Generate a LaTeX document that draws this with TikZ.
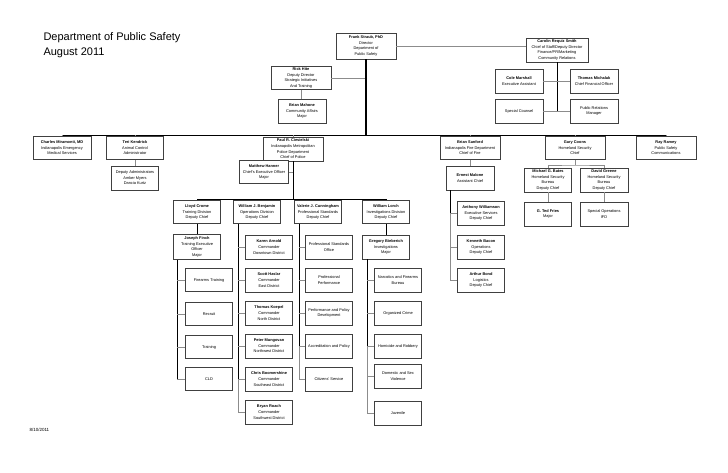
\documentclass[tikz,border=0pt]{standalone}
\usepackage{fontspec}
\setmainfont{Liberation Sans}
\begin{document}
\begin{tikzpicture}[x=1pt,y=-1pt,
 bx/.style={draw=black!75,line width=0.6pt,fill=white,align=center,inner sep=0pt,font=\fontsize{3.9}{5.6}\selectfont},
 ln/.style={draw=black!45,line width=0.6pt},
 tk/.style={draw=black,line width=1.6pt},
 tm/.style={draw=black,line width=0.8pt}]
\useasboundingbox (0,0) rectangle (728,472);
\newcommand\bx[6]{\node[bx,minimum width=#4pt,minimum height=#5pt] (#1) at (#2,#3) {#6};}
\node[anchor=west,font=\fontsize{11}{13}\selectfont] (t1) at (40,38) {Department of Public Safety};
\node[anchor=west,font=\fontsize{11}{13}\selectfont] (t2) at (40,53) {August 2011};
\node[anchor=west,font=\fontsize{4.5}{5}\selectfont] (dt) at (26,430) {8/10/2011};
% top
\bx{frank}{366}{46}{60}{26}{\textbf{Frank Straub, PhD}\\Director\\Department of\\Public Safety}
\bx{carolin}{557}{50}{62}{24}{\textbf{Carolin Requiz Smith}\\Chief of Staff/Deputy Director\\Finance/PR/Marketing\\Community Relations}
\bx{rick}{301}{78}{60}{23}{\textbf{Rick Hite}\\Deputy Director\\Strategic Initiatives\\And Training}
\bx{mahone}{302}{111}{48}{24}{\textbf{Brian Mahone}\\Community Affairs\\Major}
\bx{cole}{519}{81}{48}{24}{\textbf{Cole Marshall}\\Executive Assistant}
\bx{michalak}{594}{81}{48}{24}{\textbf{Thomas Michalak}\\Chief Financial Officer}
\bx{counsel}{519}{111}{48}{24}{Special Counsel}
\bx{prm}{594}{111}{48}{24}{Public Relations\\Manager}
\coordinate (cbot) at (557,111);
\draw[ln] (frank.east |- 0,46) -- (carolin.west |- 0,46);
\draw[tm] (carolin.south) -- (cbot);
\draw[ln] (cole.east) -- (michalak.west);
\draw[ln] (counsel.east) -- (prm.west);
\draw[ln] (rick.south) -- (mahone.north -| rick.south);
% main bar
\coordinate (bar) at (366,135);
\draw[ln] (rick.east) -- (rick.east -| frank.south);
\bx{charles}{62}{148}{58}{23}{\textbf{Charles Miramonti, MD}\\Indianapolis Emergency\\Medical Services}
\bx{teri}{135}{148}{57}{23}{\textbf{Teri Kendrick}\\Animal Control\\Administrator}
\bx{paul}{293}{149}{60}{24}{\textbf{Paul R. Ciesielski}\\Indianapolis Metropolitan\\Police Department\\Chief of Police}
\bx{sanford}{470}{148}{60}{23}{\textbf{Brian Sanford}\\Indianapolis Fire Department\\Chief of Fire}
\bx{coons}{575}{148}{60}{23}{\textbf{Gary Coons}\\Homeland Security\\Chief}
\bx{ramey}{666}{148}{60}{23}{\textbf{Ray Ramey}\\Public Safety\\Communications}
\draw[tk] (frank.south) -- (bar);
\draw[tm] (charles.north |- bar) -- (ramey.north |- bar);
\foreach \n in {charles,teri,paul,sanford,coons,ramey}{\draw[ln] (\n.north) -- (\n.north |- bar);}
\bx{deputyadm}{135}{178}{47}{24}{Deputy Administrators\\Amber Myers\\Dancia Kurtz}
\draw[ln] (teri.south) -- (deputyadm.north);
\bx{hanner}{264}{172}{49}{23}{\textbf{Matthew Hanner}\\Chief's Executive Officer\\Major}
% police
\coordinate (pbar) at (293,199);
\draw[tm] (paul.south) -- (pbar);
\draw[ln] (hanner.east) -- (hanner.east -| paul.south);
\bx{crome}{197}{212}{47}{23}{\textbf{Lloyd Crome}\\Training Division\\Deputy Chief}
\bx{benjamin}{257}{212}{47}{23}{\textbf{William J. Benjamin}\\Operations Division\\Deputy Chief}
\bx{cunningham}{318}{212}{47}{23}{\textbf{Valerie J. Cunningham}\\Professional Standards\\Deputy Chief}
\bx{lorch}{386}{212}{47}{23}{\textbf{William Lorch}\\Investigations Division\\Deputy Chief}
\draw[tm] (crome.north |- pbar) -- (lorch.north |- pbar);
\foreach \n in {crome,benjamin,cunningham,lorch}{\draw[tm] (\n.north) -- (\n.north |- pbar);}
% training
\bx{finch}{197}{247}{47}{25}{\textbf{Joseph Finch}\\Training Executive\\Officer\\Major}
\draw[tm] (crome.south) -- (finch.north);
\bx{ft}{209}{280}{47}{23}{Firearms Training}
\bx{recruit}{209}{314}{47}{23}{Recruit}
\bx{training}{209}{347}{47}{23}{Training}
\bx{cld}{209}{379}{47}{23}{CLD}
\coordinate (tL) at (177,260);
\draw[tm] (tL) -- (tL |- cld.west);
\foreach \n in {ft,recruit,training,cld}{\draw[ln] (\n.west) -- (\n.west -| tL);}
% operations
\bx{arnold}{269}{247}{47}{24}{\textbf{Karen Arnold}\\Commander\\Downtown District}
\bx{haslar}{269}{280}{47}{24}{\textbf{Scott Haslar}\\Commander\\East District}
\bx{koepel}{269}{313}{47}{24}{\textbf{Thomas Koepel}\\Commander\\North District}
\bx{mungovan}{269}{346}{47}{24}{\textbf{Peter Mungovan}\\Commander\\Northwest District}
\bx{boomer}{269}{379}{47}{24}{\textbf{Chris Boomershine}\\Commander\\Southeast District}
\bx{roach}{269}{412}{47}{24}{\textbf{Bryan Roach}\\Commander\\Southwest District}
\coordinate (tB) at (238,224);
\draw[tm] (tB) -- (tB |- boomer.west);
\draw[ln] (tB |- boomer.west) -- (tB |- roach.west);
\foreach \n in {arnold,haslar,koepel,mungovan,boomer,roach}{\draw[ln] (\n.west) -- (\n.west -| tB);}
% professional standards
\bx{pso}{329}{247}{47}{24}{Professional Standards\\Office}
\bx{pp}{329}{280}{47}{24}{Professional\\Performance}
\bx{ppd}{329}{313}{47}{24}{Performance and Policy\\Development}
\bx{acc}{329}{346}{47}{24}{Accreditation and Policy}
\bx{cit}{329}{379}{47}{24}{Citizens' Service}
\coordinate (tV) at (299,224);
\draw[tm] (tV) -- (tV |- acc.west);
\draw[ln] (tV |- acc.west) -- (tV |- cit.west);
\foreach \n in {pso,pp,ppd,acc,cit}{\draw[ln] (\n.west) -- (\n.west -| tV);}
% investigations
\bx{bieberich}{386}{247}{47}{24}{\textbf{Gregory Bieberich}\\Investigations\\Major}
\draw[tm] (lorch.south) -- (bieberich.north);
\bx{narc}{398}{280}{47}{24}{Narcotics and Firearms\\Bureau}
\bx{org}{398}{313}{47}{24}{Organized Crime}
\bx{hom}{398}{346}{47}{24}{Homicide and Robbery}
\bx{dom}{398}{376}{47}{24}{Domestic and Sex\\Violence}
\bx{juv}{398}{413}{47}{24}{Juvenile}
\coordinate (tI) at (367,259);
\draw[tm] (tI) -- (tI |- hom.west);
\draw[ln] (tI |- hom.west) -- (tI |- juv.west);
\foreach \n in {narc,org,hom,dom,juv}{\draw[ln] (\n.west) -- (\n.west -| tI);}
% fire
\bx{malone}{470}{178}{48}{24}{\textbf{Ernest Malone}\\Assistant Chief}
\draw[ln] (sanford.south) -- (malone.north);
\bx{williamson}{481}{213}{47}{24}{\textbf{Anthony Williamson}\\Executive Services\\Deputy Chief}
\bx{bacon}{481}{247}{47}{24}{\textbf{Kenneth Bacon}\\Operations\\Deputy Chief}
\bx{bond}{481}{280}{47}{24}{\textbf{Arthur Bond}\\Logistics\\Deputy Chief}
\coordinate (tF) at (450,190);
\draw[tm] (tF) -- (tF |- williamson.west);
\draw[ln] (tF |- williamson.west) -- (tF |- bond.west);
\foreach \n in {williamson,bacon,bond}{\draw[ln] (\n.west) -- (\n.west -| tF);}
% homeland
\bx{bates}{548}{180}{47}{24}{\textbf{Michael G. Bates}\\Homeland Security\\Bureau\\Deputy Chief}
\bx{greene}{604}{180}{48}{24}{\textbf{David Greene}\\Homeland Security\\Bureau\\Deputy Chief}
\bx{fries}{548}{214}{47}{24}{\textbf{G. Ted Fries}\\Major}
\bx{specops}{604}{214}{48}{24}{Special Operations\\IFD}
\coordinate (hbar) at (575,165);
\draw[ln] (coons.south) -- (hbar);
\draw[ln] (bates.north) |- (hbar) -| (greene.north);
\draw[ln] (bates.south) -- (fries.north);
\draw[ln] (greene.south) -- (specops.north);
\end{tikzpicture}
\end{document}
